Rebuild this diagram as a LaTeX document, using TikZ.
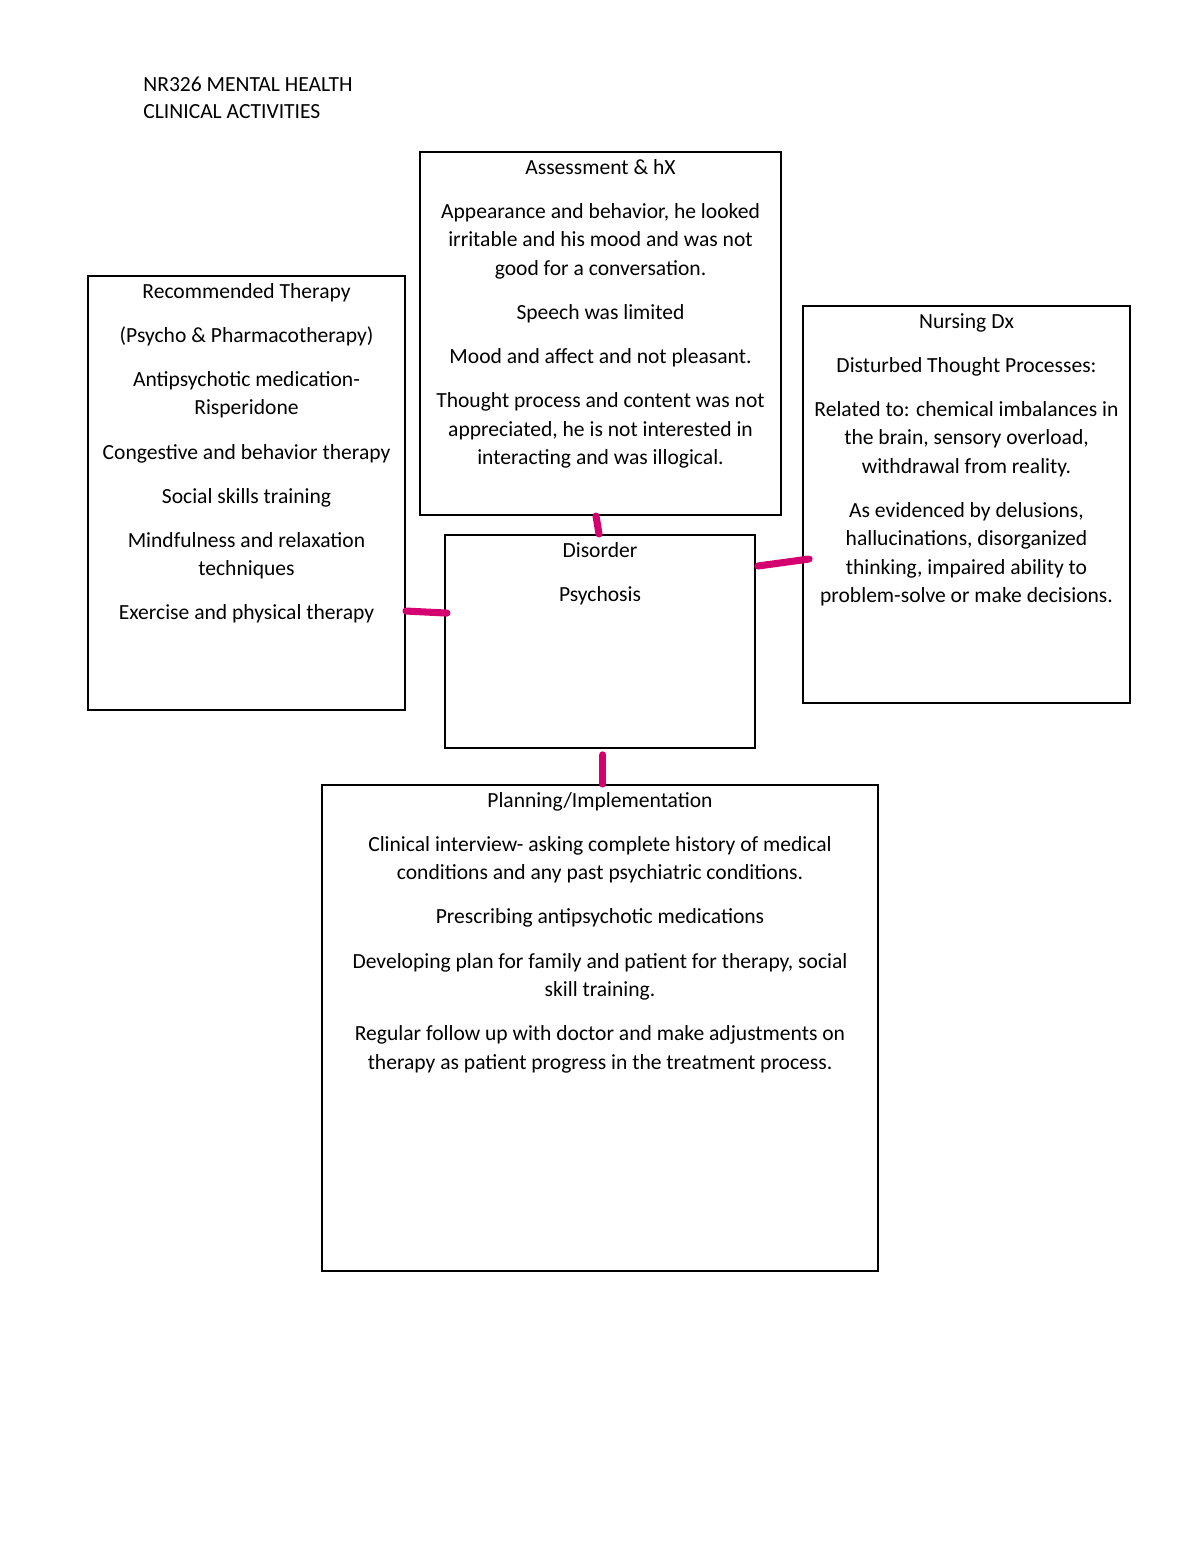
\documentclass[tikz,border=0pt]{standalone}
\usepackage{fontspec}
\setmainfont{Carlito}
\usetikzlibrary{fit}
\definecolor{linkpink}{RGB}{213,0,111}
\tikzset{
  box/.style={draw, line width=1pt, inner sep=0pt},
  boxtext/.style={anchor=north, align=center, inner sep=0pt, yshift=-4pt,
    font=\fontsize{11}{14.5}\selectfont},
  heading/.style={anchor=base west, inner sep=0pt, font=\fontsize{11}{13.8}\selectfont},
  link/.style={draw=linkpink, line width=3.6pt, line cap=round}
}
\begin{document}
\begin{tikzpicture}[x=0.51pt,y=-0.51pt]
    \useasboundingbox (0,0) rectangle (1200,1553);
    \node[heading] (title1) at (143,92) {NR326 MENTAL HEALTH};
    \node[heading] (title2) at (143,119) {CLINICAL ACTIVITIES};
    % boxes
    \coordinate (a1) at (420,152); \coordinate (a2) at (781,515);
    \coordinate (r1) at (88,276);  \coordinate (r2) at (405,710);
    \coordinate (n1) at (803,306); \coordinate (n2) at (1130,703);
    \coordinate (d1) at (445,535); \coordinate (d2) at (755,748);
    \coordinate (p1) at (322,785); \coordinate (p2) at (878,1271);
    \node[box, fit=(a1)(a2)] (assess) {};
    \node[box, fit=(r1)(r2)] (therapy) {};
    \node[box, fit=(n1)(n2)] (nursing) {};
    \node[box, fit=(d1)(d2)] (disorder) {};
    \node[box, fit=(p1)(p2)] (planning) {};
    % texts
    \node[boxtext] (assess-txt) at (assess.north) {Assessment \& hX\\[8pt]
        Appearance and behavior, he looked\\ irritable and his mood and was not\\ good for a conversation.\\[8pt]
        Speech was limited\\[8pt]
        Mood and affect and not pleasant.\\[8pt]
        Thought process and content was not\\ appreciated, he is not interested in\\ interacting and was illogical.};
    \node[boxtext] (therapy-txt) at (therapy.north) {Recommended Therapy\\[8pt]
        (Psycho \& Pharmacotherapy)\\[8pt]
        Antipsychotic medication-\\ Risperidone\\[8pt]
        Congestive and behavior therapy\\[8pt]
        Social skills training\\[8pt]
        Mindfulness and relaxation\\ techniques\\[8pt]
        Exercise and physical therapy};
    \node[boxtext] (nursing-txt) at (nursing.north) {Nursing Dx\\[8pt]
        Disturbed Thought Processes:\\[8pt]
        Related to: chemical imbalances in\\ the brain, sensory overload,\\ withdrawal from reality.\\[8pt]
        As evidenced by delusions,\\ hallucinations, disorganized\\ thinking, impaired ability to\\ problem-solve or make decisions.};
    \node[boxtext] (disorder-txt) at (disorder.north) {Disorder\\[8pt] Psychosis};
    \node[boxtext] (planning-txt) at (planning.north) {Planning/Implementation\\[8pt]
        Clinical interview- asking complete history of medical\\ conditions and any past psychiatric conditions.\\[8pt]
        Prescribing antipsychotic medications\\[8pt]
        Developing plan for family and patient for therapy, social\\ skill training.\\[8pt]
        Regular follow up with doctor and make adjustments on\\ therapy as patient progress in the treatment process.};
    % connectors
    \draw[link] ([xshift=-2.3pt]assess.south) -- ([xshift=-0.5pt]disorder.north);
    \draw[link] ([yshift=-60.2pt]therapy.east) -- ([xshift=1.5pt,yshift=14.5pt]disorder.west);
    \draw[link] ([xshift=3.6pt,yshift=-27.8pt]nursing.west) -- ([xshift=1pt,yshift=38.5pt]disorder.east);
    \draw[link] ([xshift=1.5pt,yshift=-3pt]disorder.south) -- ([xshift=1.5pt]planning.north);
\end{tikzpicture}
\end{document}
